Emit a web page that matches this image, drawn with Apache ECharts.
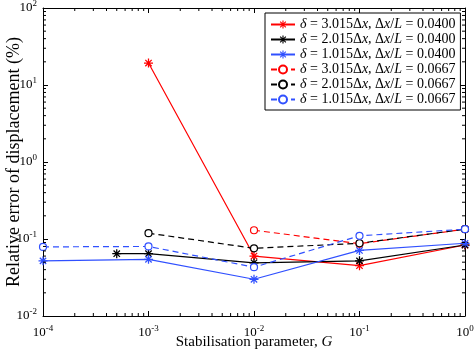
<!DOCTYPE html>
<html lang="en">
<head>
    <meta charset="UTF-8">
    <title>Relative error of displacement</title>
    <script src="https://cdn.jsdelivr.net/npm/echarts@6.0.0/dist/echarts.min.js"></script>
</head>
<body style="margin:0;background:#fff;">
    <div id="main" style="width: 474px;height:350px;"></div>
    <script type="text/javascript">
        // stabilisation parameter G and relative error (%) for each case
        const gRed04 = [1e-3, 1e-2, 1e-1, 1];
        const errRed04 = [19.3, 0.060, 0.045, 0.0835];
        const gBlack04 = [5e-4, 1e-3, 1e-2, 1e-1, 1];
        const errBlack04 = [0.0645, 0.0645, 0.049, 0.052, 0.0835];
        const gBlue04 = [1e-4, 1e-3, 1e-2, 1e-1, 1];
        const errBlue04 = [0.052, 0.0545, 0.030, 0.071, 0.088];
        const gRed0667 = [1e-2, 1e-1, 1];
        const errRed0667 = [0.13, 0.087, 0.134];
        const gBlack0667 = [1e-3, 1e-2, 1e-1, 1];
        const errBlack0667 = [0.119, 0.0757, 0.088, 0.134];
        const gBlue0667 = [1e-4, 1e-3, 1e-2, 1e-1, 1];
        const errBlue0667 = [0.079, 0.080, 0.043, 0.110, 0.134];

        const legendNames = [
            '{i|δ} = 3.015Δ{i|x}, Δ{i|x}/{i|L} = 0.0400',
            '{i|δ} = 2.015Δ{i|x}, Δ{i|x}/{i|L} = 0.0400',
            '{i|δ} = 1.015Δ{i|x}, Δ{i|x}/{i|L} = 0.0400',
            '{i|δ} = 3.015Δ{i|x}, Δ{i|x}/{i|L} = 0.0667',
            '{i|δ} = 2.015Δ{i|x}, Δ{i|x}/{i|L} = 0.0667',
            '{i|δ} = 1.015Δ{i|x}, Δ{i|x}/{i|L} = 0.0667'
        ];

        const xDecades = [1e-4, 1e-3, 1e-2, 1e-1];
        const yDecades = [1e-2, 1e-1, 1, 10];
        const minorSteps = [2, 3, 4, 5, 6, 7, 8, 9];

        const RED = '#ff0000', BLACK = '#000000', BLUE = '#3050ff';
        const FONT = 'Liberation Serif';

        // asterisk marker made of four thin bars
        const STAR = 'path://M0,4.3H10V5.7H0Z M4.3,0H5.7V10H4.3Z M0.97,1.96L1.96,0.97L9.03,8.04L8.04,9.03Z M8.04,0.97L9.03,1.96L1.96,9.03L0.97,8.04Z';

        function pairs(xs, ys) {
            return xs.map((x, i) => [x, ys[i]]);
        }

        function makeSeries(name, xs, ys, color, dashed, symbol) {
            const isStar = symbol === STAR;
            return {
                name: name,
                type: 'line',
                data: pairs(xs, ys),
                symbol: symbol,
                symbolSize: isStar ? 9 : 7,
                showSymbol: true,
                color: color,
                lineStyle: { color: color, width: 1.2, type: dashed ? [6, 4] : 'solid' },
                itemStyle: isStar
                    ? { color: color, borderWidth: 0 }
                    : { color: '#fff', borderColor: color, borderWidth: 1.2 },
                emphasis: { disabled: true },
                animation: false
            };
        }

        const minorData = [];
        xDecades.forEach((d) => minorSteps.forEach((m) => minorData.push([d * m, 1e-2, 0])));
        yDecades.forEach((d) => minorSteps.forEach((m) => minorData.push([1e-4, d * m, 1])));

        const tickLabel = (v) => '10{sup|' + Math.round(Math.log10(v)) + '}';
        const labelRich = {
            sup: { fontSize: 9, fontFamily: FONT, color: '#000', padding: [0, 0, 9, 0] }
        };

        const axisCommon = {
            type: 'log',
            logBase: 10,
            nameMoveOverlap: false,
            axisLine: { lineStyle: { color: '#000', width: 1 } },
            axisTick: { inside: true, length: 5, lineStyle: { color: '#000' } },
            splitLine: { show: false }
        };

        let options = {
            backgroundColor: '#fff',
            animation: false,
            grid: { left: 43, right: 9, top: 8, bottom: 34, containLabel: false, outerBoundsMode: 'none' },
            legend: {
                data: legendNames,
                orient: 'vertical',
                left: 265,
                top: 13,
                padding: [4, 5, 3, 5],
                itemGap: 0,
                itemWidth: 24,
                itemHeight: 10,
                backgroundColor: '#fff',
                borderColor: '#000',
                borderWidth: 1,
                borderRadius: 0,
                selectedMode: false,
                textStyle: {
                    fontFamily: FONT, fontSize: 14, color: '#000', lineHeight: 15,
                    rich: { i: { fontFamily: FONT, fontStyle: 'italic', fontSize: 14, color: '#000', lineHeight: 15 } }
                }
            },
            xAxis: [
                Object.assign({}, axisCommon, {
                    min: 1e-4, max: 1,
                    name: 'Stabilisation parameter, {i|G}',
                    nameLocation: 'middle',
                    nameGap: 19,
                    nameTextStyle: {
                        fontFamily: FONT, fontSize: 15, color: '#000',
                        rich: { i: { fontFamily: FONT, fontStyle: 'italic', fontSize: 15, color: '#000' } }
                    },
                    axisLabel: {
                        formatter: tickLabel, fontFamily: FONT, fontSize: 13, color: '#000',
                        margin: 8, rich: labelRich
                    }
                }),
                Object.assign({}, axisCommon, {
                    min: 1e-4, max: 1, position: 'top', axisLabel: { show: false }
                })
            ],
            yAxis: [
                Object.assign({}, axisCommon, {
                    min: 1e-2, max: 100,
                    name: 'Relative error of displacement (%)',
                    nameLocation: 'middle',
                    nameGap: 20,
                    nameTextStyle: { fontFamily: FONT, fontSize: 18, color: '#000' },
                    axisLabel: {
                        formatter: tickLabel, fontFamily: FONT, fontSize: 13, color: '#000',
                        margin: 6, rich: labelRich
                    }
                }),
                Object.assign({}, axisCommon, {
                    min: 1e-2, max: 100, position: 'right', axisLabel: { show: false }
                })
            ],
            series: [
                makeSeries(legendNames[0], gRed04, errRed04, RED, false, STAR),
                makeSeries(legendNames[1], gBlack04, errBlack04, BLACK, false, STAR),
                makeSeries(legendNames[2], gBlue04, errBlue04, BLUE, false, STAR),
                makeSeries(legendNames[3], gRed0667, errRed0667, RED, true, 'circle'),
                makeSeries(legendNames[4], gBlack0667, errBlack0667, BLACK, true, 'circle'),
                makeSeries(legendNames[5], gBlue0667, errBlue0667, BLUE, true, 'circle'),
                {
                    // minor ticks on all four sides, placed through the log scales
                    name: 'minor',
                    type: 'custom',
                    data: minorData,
                    silent: true,
                    clip: false,
                    z: 5,
                    renderItem: function (params, api) {
                        const kind = api.value(2);
                        const style = { stroke: '#000', lineWidth: 1 };
                        if (kind === 0) {
                            const p = api.coord([api.value(0), 1e-2]);
                            const q = api.coord([api.value(0), 100]);
                            return {
                                type: 'group', children: [
                                    { type: 'line', shape: { x1: p[0], y1: p[1], x2: p[0], y2: p[1] - 3 }, style: style },
                                    { type: 'line', shape: { x1: q[0], y1: q[1], x2: q[0], y2: q[1] + 3 }, style: style }
                                ]
                            };
                        }
                        const p = api.coord([1e-4, api.value(1)]);
                        const q = api.coord([1, api.value(1)]);
                        return {
                            type: 'group', children: [
                                { type: 'line', shape: { x1: p[0], y1: p[1], x2: p[0] + 3, y2: p[1] }, style: style },
                                { type: 'line', shape: { x1: q[0], y1: q[1], x2: q[0] - 3, y2: q[1] }, style: style }
                            ]
                        };
                    }
                }
            ]
        };

        let myChart = echarts.init(document.getElementById('main'));
        myChart.setOption(options);
    </script>
</body>
</html>
